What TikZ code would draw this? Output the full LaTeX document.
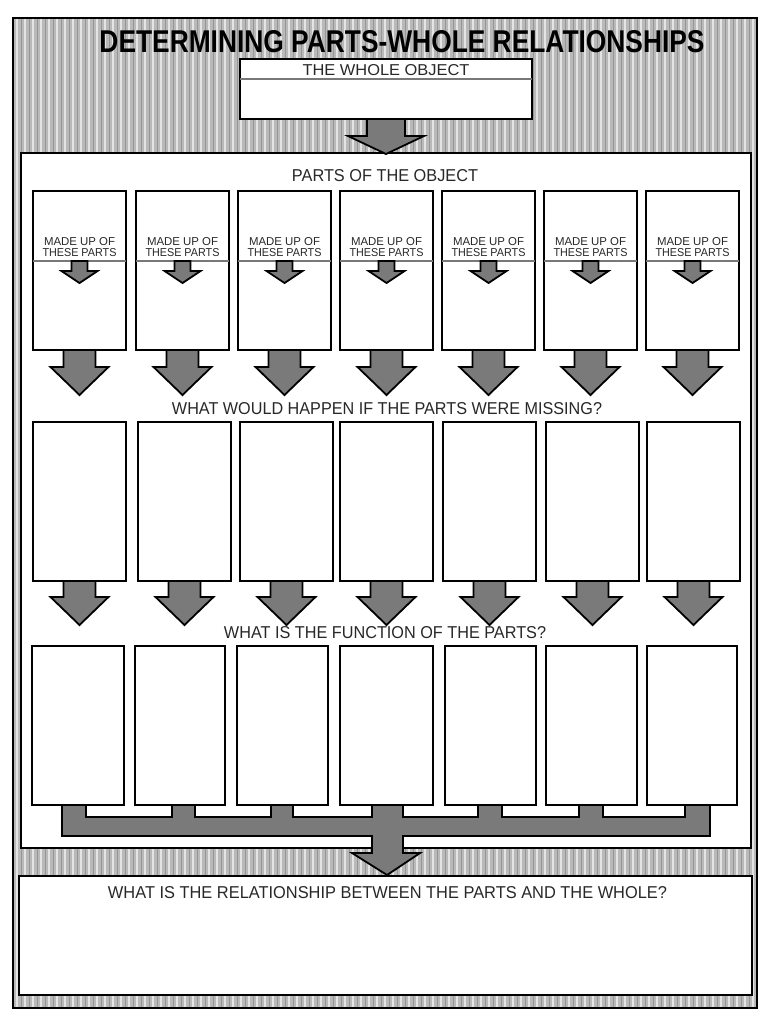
\documentclass[tikz,border=0pt]{standalone}
\usepackage{fontspec}
\setmainfont{Liberation Sans}
\usetikzlibrary{calc}
\newdimen\pxu \pxu=0.75pt
\newcommand\fitt[3]{\resizebox{#1\pxu}{#2\pxu}{#3}}
\definecolor{arrowgray}{RGB}{122,122,122}
\definecolor{bggray}{RGB}{185,185,185}
\definecolor{bgline}{RGB}{228,228,228}
\definecolor{bgdark}{RGB}{150,150,150}
\definecolor{lbl}{RGB}{40,40,40}
\definecolor{divgray}{RGB}{120,120,120}
% block arrow: anchor, shaft half width, head half width, shaft length, head length
\newcommand\barrow[5]{%
  \draw[arr] ($(#1)+(-#2,0)$) -- ($(#1)+(-#2,#4)$) -- ($(#1)+(-#3,#4)$)
    -- ($(#1)+(0,{#4+#5})$) -- ($(#1)+(#3,#4)$) -- ($(#1)+(#2,#4)$)
    -- ($(#1)+(#2,0)$) -- cycle;}
\begin{document}
\begin{tikzpicture}[x=0.75pt,y=-0.75pt,
  arr/.style={draw=black,fill=arrowgray,line width=1.8\pxu,line join=miter},
  cell/.style={draw=black,fill=white,line width=2\pxu,inner sep=0pt,outer sep=0pt,anchor=north west},
  txt/.style={inner sep=0pt,text=lbl},
  divider/.style={draw=divgray,line width=1.5\pxu}]
\useasboundingbox (0,0) rectangle (768,1024);
\fill[white] (0,0) rectangle (768,1024);
% patterned background
\fill[bggray] (13,18) rectangle (757,1008);
\foreach \x in {17,25,...,753} \draw[bgline,line width=1.4\pxu] (\x,19) -- (\x,1007);
\foreach \x in {21,29,...,753} \draw[bgdark,line width=0.7\pxu] (\x,19) -- (\x,1007);
\draw[black,line width=2.2\pxu] (13,18) rectangle (757,1008);
% title
\node[inner sep=0pt] (title) at (402,42) {\fitt{605}{22}{\bfseries DETERMINING PARTS-WHOLE RELATIONSHIPS}};
% whole object
\node[cell,minimum width=292\pxu,minimum height=60\pxu] (whole) at (240,59) {};
\draw[divider] ($(whole.north west)+(0,20)$) -- ($(whole.north east)+(0,20)$);
\node[txt] (wholelbl) at (386,70) {\fitt{167}{11}{THE WHOLE OBJECT}};
% main white panel
\node[draw=black,fill=white,line width=1.8\pxu,inner sep=0pt,outer sep=0pt,anchor=north west,
  minimum width=730\pxu,minimum height=695\pxu] (panel) at (21,153) {};
\barrow{whole.south}{19}{38}{17}{18}
\node[txt] (partslbl) at (385,175.5) {\fitt{186}{12}{PARTS OF THE OBJECT}};
% row 1
\foreach \i/\x in {1/33,2/136,3/238,4/340,5/442,6/544,7/646}{
  \node[cell,minimum width=93\pxu,minimum height=159\pxu] (p\i) at (\x,191) {};
  \coordinate (d\i) at ($(p\i.north)+(0,70)$);
  \draw[divider] (p\i.west |- d\i) -- (p\i.east |- d\i);
  \node[txt] (mu\i) at ($(p\i.north)+(0,50.5)$) {\fitt{71}{8}{MADE UP OF}};
  \node[txt] (tp\i) at ($(p\i.north)+(0,61.5)$) {\fitt{74}{8}{THESE PARTS}};
  \barrow{d\i}{8}{18}{10}{12}
  \barrow{p\i.south}{16}{29}{17}{28}
}
\node[txt] (misslbl) at (387,408.5) {\fitt{430}{12}{WHAT WOULD HAPPEN IF THE PARTS WERE MISSING?}};
% row 2
\foreach \i/\x in {1/33,2/138,3/240,4/340,5/443,6/546,7/647}{
  \node[cell,minimum width=93\pxu,minimum height=159\pxu] (m\i) at (\x,422) {};
  \barrow{m\i.south}{16}{29}{16}{28}
}
\node[txt] (funclbl) at (385,632.5) {\fitt{322}{12}{WHAT IS THE FUNCTION OF THE PARTS?}};
% comb connector to the bottom box
\draw[arr] (62,805) -- (62,836) -- (372,836) -- (372,853) -- (352,853) -- (387,875)
  -- (420,853) -- (403,853) -- (403,836) -- (710,836) -- (710,805) -- (685,805)
  -- (685,817) -- (603,817) -- (603,805) -- (579,805) -- (579,817) -- (502,817)
  -- (502,805) -- (478,805) -- (478,817) -- (403,817) -- (403,805) -- (372,805)
  -- (372,817) -- (293,817) -- (293,805) -- (271,805) -- (271,817) -- (195,817)
  -- (195,805) -- (172,805) -- (172,817) -- (86,817) -- (86,805) -- cycle;
% row 3
\foreach \i/\x/\w in {1/32/92,2/135/90,3/237/91,4/340/93,5/445/91,6/546/91,7/647/90}{
  \node[cell,minimum width=\w\pxu,minimum height=159\pxu] (f\i) at (\x,646) {};
}
% bottom box
\node[cell,draw=black,line width=1.8\pxu,minimum width=733\pxu,minimum height=119\pxu] (rel) at (19,876) {};
\node[txt] (rellbl) at (387.5,892.5) {\fitt{559}{12}{WHAT IS THE RELATIONSHIP BETWEEN THE PARTS AND THE WHOLE?}};
\end{tikzpicture}
\end{document}
